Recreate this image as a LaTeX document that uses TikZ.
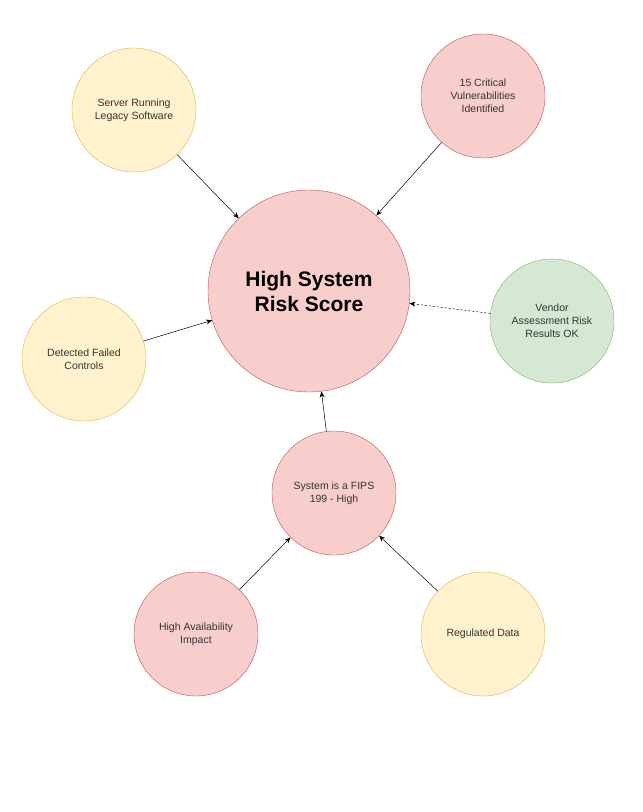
\documentclass[tikz,border=0pt]{standalone}
\usepackage{fontspec}
\setmainfont{Liberation Sans}
\usetikzlibrary{arrows.meta}
\definecolor{rf}{HTML}{F8CECC}\definecolor{rs}{HTML}{B85450}
\definecolor{yf}{HTML}{FFF2CC}\definecolor{ys}{HTML}{D6B656}
\definecolor{gf}{HTML}{D5E8D4}\definecolor{gs}{HTML}{82B366}
\begin{document}
\begin{tikzpicture}[x=1pt,y=-1pt,
 c/.style={circle,draw,minimum size=124pt,inner sep=0pt,align=center,font=\fontsize{10.5}{13}\selectfont,text=black!80},
 red/.style={c,fill=rf,draw=rs},yel/.style={c,fill=yf,draw=ys},grn/.style={c,fill=gf,draw=gs},
 ar/.style={-{Stealth[length=6pt,width=5pt]},black,line width=0.5pt}]
\useasboundingbox[fill=white] (0,0) rectangle (643,812);
\node[red,minimum size=202pt,font=\bfseries\fontsize{21}{25}\selectfont,text=black] (m) at (309,291) {High System\\Risk Score};
\node[yel] (s) at (134,110) {Server Running\\Legacy Software};
\node[red] (v) at (483,96) {15 Critical\\Vulnerabilities\\Identified};
\node[yel] (d) at (84,359) {Detected Failed\\Controls};
\node[grn] (g) at (552,321) {Vendor\\Assessment Risk\\Results OK};
\node[red] (f) at (334,493) {System is a FIPS\\199 - High};
\node[red] (h) at (196,634) {High Availability\\Impact};
\node[yel] (r) at (483,634) {Regulated Data};
\draw[ar] (s) -- (m);
\draw[ar] (v) -- (m);
\draw[ar] (d) -- (m);
\draw[ar,dashed,dash pattern=on 2pt off 2pt] (g) -- (m);
\draw[ar] (f) -- (m);
\draw[ar] (h) -- (f);
\draw[ar] (r) -- (f);
\end{tikzpicture}
\end{document}
